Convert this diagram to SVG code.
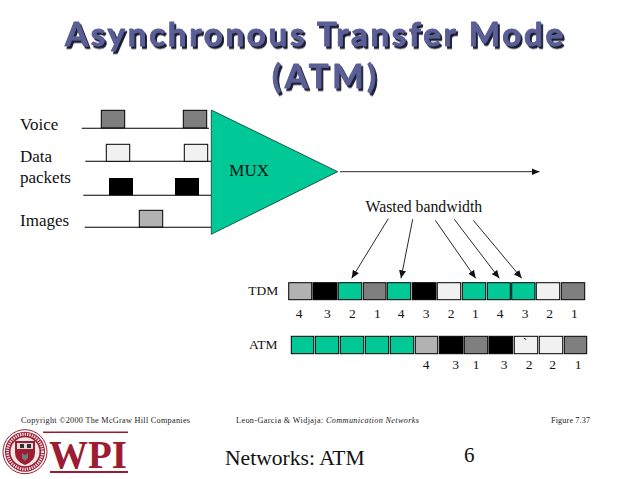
<svg xmlns="http://www.w3.org/2000/svg" width="638" height="479" viewBox="0 0 638 479">
<style>
text{font-family:"Liberation Serif","Times New Roman",serif;fill:#111}
.title{font-family:"Lato","Open Sans",sans-serif;font-weight:700;font-size:33px;fill:#5a5e96;stroke:#5a5e96;stroke-width:.9px;stroke-linejoin:round;filter:url(#sh)}
.lab{font-size:17px}
.small{font-size:13.5px;text-anchor:middle}
.tag{font-size:13.5px}
.foot{font-size:8.2px;fill:#222}
.c{stroke:#000;stroke-width:1}
.g{fill:#00c896}.k{fill:#000}.d{fill:#7f7f7f}.m{fill:#b2b2b2}.l{fill:#f1f1f1}
.w{stroke:#000;stroke-width:1.1;fill:none}
.a{stroke:#111;stroke-width:.9;fill:none;marker-end:url(#ah)}
.r{fill:#9c1c32}
</style>
<defs>
<marker id="ah" markerUnits="userSpaceOnUse" markerWidth="9" markerHeight="8" refX="8" refY="3.5" orient="auto"><path d="M0 0L8 3.5L0 7z" fill="#111"/></marker>
<filter id="sh" x="-5%" y="-20%" width="110%" height="140%"><feDropShadow dx="2" dy="2.5" stdDeviation=".5" flood-color="#1c1c30"/></filter>
</defs>
<rect width="638" height="479" fill="#fff"/>

<g id="title">
<text class="title" x="65" y="46" textLength="498" lengthAdjust="spacing">Asynchronous Transfer Mode</text>
<text class="title" x="272" y="88" textLength="104" lengthAdjust="spacing">(ATM)</text>
</g>

<g id="connectors">
<path class="w" d="M81.7 128.3H209M85.3 161.3H215M83.3 195.3H211M84.7 227.3H211"/>
<path class="a" d="M340 171.7H539.5"/>
<path class="a" d="M388.3 218.7L351.7 278.3"/>
<path class="a" d="M412.7 219.3L401 278.3"/>
<path class="a" d="M435.3 220.3L475.7 278.3"/>
<path class="a" d="M454.3 219.3L499.3 278.3"/>
<path class="a" d="M473.3 220.3L521.7 278.3"/>
</g>

<g id="voice">
<text class="lab" x="20" y="130">Voice</text>
<rect class="c d" x="101.3" y="110.3" width="23.4" height="17.6"/>
<rect class="c d" x="183.3" y="110.3" width="23.4" height="17.6"/>
</g>
<g id="data">
<text class="lab" x="20" y="162">Data</text>
<text class="lab" x="20" y="182.5">packets</text>
<rect class="c l" x="106.3" y="144.3" width="23.4" height="17"/>
<rect class="c l" x="184.3" y="144.3" width="23.4" height="17"/>
<rect class="k" x="109" y="178" width="24" height="17.3"/>
<rect class="k" x="175" y="178" width="24" height="17.3"/>
</g>
<g id="images">
<text class="lab" x="20" y="226">Images</text>
<rect class="c m" x="139.3" y="210.3" width="23.4" height="16.7"/>
</g>
<g id="mux">
<path d="M211.3 110L337.7 171.7L211.3 234.3Z" fill="#00c896" stroke="#0a3a30" stroke-width=".8"/>
<text class="lab" x="229.3" y="175.5" fill="#111">MUX</text>
</g>
<g id="wasted">
<text x="365.5" y="211.7" font-size="15.8">Wasted bandwidth</text>
</g>

<g id="tdm">
<text class="tag" x="248.3" y="295">TDM</text>
<rect class="c m" x="288.7" y="282.7" width="23" height="17"/>
<rect class="c k" x="313" y="282.7" width="24" height="17"/>
<rect class="c g" x="338.3" y="282.7" width="23.4" height="17"/>
<rect class="c d" x="363.3" y="282.7" width="22.7" height="17"/>
<rect class="c g" x="387.3" y="282.7" width="23.4" height="17"/>
<rect class="c k" x="412.3" y="282.7" width="23.7" height="17"/>
<rect class="c l" x="437.3" y="282.7" width="23.4" height="17"/>
<rect class="c g" x="462.3" y="282.7" width="23.4" height="17"/>
<rect class="c g" x="487.3" y="282.7" width="23" height="17"/>
<rect class="c g" x="511.7" y="282.7" width="23.3" height="17"/>
<rect class="c l" x="536.3" y="282.7" width="23.4" height="17"/>
<rect class="c d" x="561.3" y="282.7" width="23.4" height="17"/>
<text class="small" x="299" y="317.7">4</text>
<text class="small" x="327.3" y="317.7">3</text>
<text class="small" x="352.3" y="317.7">2</text>
<text class="small" x="377.3" y="317.7">1</text>
<text class="small" x="401" y="317.7">4</text>
<text class="small" x="426" y="317.7">3</text>
<text class="small" x="451" y="317.7">2</text>
<text class="small" x="475.3" y="317.7">1</text>
<text class="small" x="500" y="317.7">4</text>
<text class="small" x="525" y="317.7">3</text>
<text class="small" x="549.7" y="317.7">2</text>
<text class="small" x="574.3" y="317.7">1</text>
</g>

<g id="atm">
<text class="tag" x="249" y="348.7">ATM</text>
<rect class="c g" x="291.3" y="336.3" width="22.4" height="17.4"/>
<rect class="c g" x="315.3" y="336.3" width="23.4" height="17.4"/>
<rect class="c g" x="340.3" y="336.3" width="23.4" height="17.4"/>
<rect class="c g" x="365.3" y="336.3" width="23.4" height="17.4"/>
<rect class="c g" x="390.3" y="336.3" width="23.4" height="17.4"/>
<rect class="c m" x="415.3" y="336.3" width="22.4" height="17.4"/>
<rect class="c k" x="439.3" y="336.3" width="23.7" height="17.4"/>
<rect class="c d" x="464.3" y="336.3" width="23.4" height="17.4"/>
<rect class="c k" x="489" y="336.3" width="23.7" height="17.4"/>
<rect class="c l" x="514.3" y="336.3" width="23.4" height="17.4"/>
<rect class="c l" x="539.3" y="336.3" width="23.4" height="17.4"/>
<rect class="c d" x="564.3" y="336.3" width="22.4" height="17.4"/>
<text class="small" x="525" y="347">`</text>
<text class="small" x="426" y="369.3">4</text>
<text class="small" x="455.7" y="369.3">3</text>
<text class="small" x="476" y="369.3">1</text>
<text class="small" x="504" y="369.3">3</text>
<text class="small" x="529" y="369.3">2</text>
<text class="small" x="552.7" y="369.3">2</text>
<text class="small" x="578" y="369.3">1</text>
</g>

<g id="footer">
<text class="foot" x="21" y="422.5" textLength="169">Copyright ©2000 The McGraw Hill Companies</text>
<text class="foot" x="236" y="422.5" textLength="183">Leon-Garcia &amp; Widjaja: <tspan font-style="italic">Communication Networks</tspan></text>
<text class="foot" x="551" y="422.5" textLength="39">Figure 7.37</text>
<text x="225" y="465" font-size="21.6">Networks: ATM</text>
<text x="464" y="462" font-size="21">6</text>
</g>

<g id="logo">
<circle class="r" cx="25" cy="451.7" r="20"/>
<circle cx="25" cy="451.7" r="22" fill="none" stroke="#9c1c32" stroke-width="1"/>
<circle cx="25" cy="451.7" r="17.5" fill="none" stroke="#e9d9dc" stroke-width="3" stroke-dasharray="1.4 1"/>
<circle cx="25" cy="451.7" r="14.5" fill="#f2e6e6"/>
<path class="r" d="M15 441H35V453Q35 461 25 465Q15 461 15 453Z"/>
<path d="M17 443H33V449H17Z" fill="#dcdcdc"/>
<path d="M20 444h4v4h-4zM27 444h4v4h-4z" fill="#333"/>
<path d="M22 453l3 2 3-2v5l-3 3-3-3z" fill="#777"/>
<path class="r" d="M43 431.5H128V433H43ZM50 471H128V473H50Z"/>
<text x="49" y="468" font-size="39" font-weight="700" style="fill:#9c1c32" textLength="78" lengthAdjust="spacingAndGlyphs">WPI</text>
</g>
</svg>
